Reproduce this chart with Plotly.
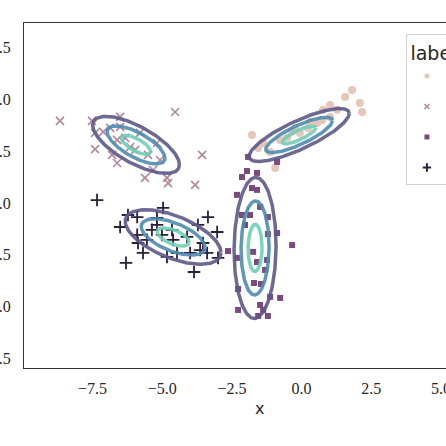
import numpy as np
import plotly.graph_objects as go

# ---- data ----
x0 = [1.81, 1.56, 2.09, 2.17, 1.02, 0.77, -1.78, -0.95, 0.23, -0.06, -0.52, -1.38, 1.02, 1.27, 0.55,
      -0.77, -1.13, -0.34, 0.30, -1.56, 0.73, -0.24]
y0 = [5.45, 5.11, 4.82, 4.39, 4.73, 4.49, 3.28, 1.69, 3.62, 3.38, 3.14, 2.89, 4.15, 4.49, 3.86,
      3.04, 2.46, 3.43, 3.91, 2.65, 4.00, 3.62]

x1 = [-8.67, -7.52, -6.51, -4.54, -7.41, -7.12, -6.62, -7.41, -6.80, -6.62, -3.57, -5.62, -4.83, -4.79,
      -3.82, -5.19, -5.80, -5.33, -6.15, -6.51, -5.97, -6.33, -5.51, -6.87, -5.08]
y1 = [3.96, 3.96, 4.15, 4.39, 3.38, 3.43, 3.04, 2.60, 2.32, 1.93, 2.32, 1.21, 1.21, 0.96,
      0.87, 2.89, 3.38, 1.59, 2.70, 3.67, 2.56, 3.14, 2.32, 3.62, 2.07]

x2 = [-1.92, -0.88, -1.96, -1.60, -2.14, -1.78, -1.60, -2.32, -1.49, -2.14, -1.85, -1.21, -2.03, -1.21,
      -0.88, -0.34, -2.64, -1.74, -2.32, -1.24, -1.60, -1.31, -1.71, -1.46, -2.28, -0.77, -1.13, -1.49,
      -2.28, -1.56, -1.21, -1.38]
y2 = [2.22, 1.98, 1.54, 1.45, 1.25, 0.72, 0.63, 0.39, -0.19, -0.58, -0.58, -0.68, -1.06, -1.50,
      -1.45, -2.03, -2.32, -2.36, -2.65, -2.75, -2.85, -3.23, -3.86, -3.91, -4.15, -4.58, -4.53, -4.92,
      -5.16, -5.45, -5.45, -5.16]

x3 = [-7.34, -6.23, -5.90, -4.97, -6.51, -5.19, -3.36, -3.72, -5.90, -5.87, -5.19, -4.65, -4.61, -4.11,
      -5.01, -3.03, -5.55, -3.54, -5.69, -4.83, -4.47, -4.00, -3.39, -3.00, -6.30, -3.86, -5.37, -3.64]
y3 = [0.14, -0.58, -0.68, -0.24, -1.16, -0.72, -0.68, -1.06, -1.54, -1.93, -1.06, -1.30, -1.78, -1.64,
      -1.54, -1.40, -1.78, -1.93, -2.41, -2.60, -2.41, -2.41, -2.41, -2.65, -2.89, -3.33, -1.30, -2.27]

labels = ["0", "1", "2", "3"]

# Gaussian component parameters (means and covariances)
means = [[-0.09, 3.28], [-5.94, 2.80], [-1.67, -2.17], [-4.61, -1.64]]
covs = [[[0.359, 0.207], [0.207, 0.181]],
        [[0.269, -0.165], [-0.165, 0.210]],
        [[0.063, 0.01], [0.01, 1.286]],
        [[0.328, -0.144], [-0.144, 0.192]]]
levels = [3, 2, 1]

xticks = [-7.5, -5.0, -2.5, 0.0, 2.5, 5.0]
yticks = [-7.5, -5.0, -2.5, 0.0, 2.5, 5.0, 7.5]

# ---- styles ----
point_colors = ["#e6c5ba", "#b3869b", "#7a4a7f", "#2b1f3b"]
level_colors = {3: "#5d5a88", 2: "#4f8cb0", 1: "#6fcfb6"}


def fmt(v):
    s = f"{v:.1f}"
    return s.replace("-", "\u2212")


fig = go.Figure()
xs = [x0, x1, x2, x3]
ys = [y0, y1, y2, y3]
markers = [
    dict(symbol="circle", size=8, color=point_colors[0], line=dict(width=0)),
    dict(symbol="x-thin", size=8, color=point_colors[1], line=dict(width=1.6, color=point_colors[1])),
    dict(symbol="square", size=6, color=point_colors[2], line=dict(width=0)),
    dict(symbol="cross-thin", size=9, color=point_colors[3], line=dict(width=1.8, color=point_colors[3])),
]
legend_markers = [
    dict(symbol="circle", size=5, color=point_colors[0], line=dict(width=0)),
    dict(symbol="x-thin", size=5, color=point_colors[1], line=dict(width=1.5, color=point_colors[1])),
    dict(symbol="square", size=5, color=point_colors[2], line=dict(width=0)),
    dict(symbol="cross-thin", size=6, color=point_colors[3], line=dict(width=2, color=point_colors[3])),
]
for i in range(4):
    fig.add_trace(go.Scatter(x=xs[i], y=ys[i], mode="markers", name=labels[i],
                             marker=markers[i], legendgroup=labels[i], showlegend=False))
    fig.add_trace(go.Scatter(x=[None], y=[None], mode="markers", name=labels[i],
                             marker=legend_markers[i], legendgroup=labels[i], showlegend=True))

t = np.linspace(0, 2 * np.pi, 200)
circle = np.vstack([np.cos(t), np.sin(t)])
for m, c in zip(means, covs):
    L = np.linalg.cholesky(np.array(c))
    for k in levels:
        pts = (L @ circle) * k + np.array(m)[:, None]
        fig.add_trace(go.Scatter(x=pts[0], y=pts[1], mode="lines", showlegend=False,
                                 hoverinfo="skip", opacity=0.9,
                                 line=dict(color=level_colors[k], width=3.5)))

tickfont = dict(family="Liberation Serif, DejaVu Serif, serif", size=16, color="#262626")
fig.update_xaxes(range=[-9.96, 5.18], tickvals=xticks, ticktext=[fmt(v) for v in xticks],
                 showgrid=False, zeroline=False, showline=True, linecolor="#333333", linewidth=1.3,
                 mirror=True, ticks="", tickfont=tickfont, ticklabelstandoff=6,
                 ticklabeloverflow="allow")
fig.update_yaxes(range=[-7.96, 8.68], tickvals=yticks, ticktext=[fmt(v) for v in yticks],
                 showgrid=False, zeroline=False, showline=True, linecolor="#333333", linewidth=1.3,
                 mirror=False, ticks="", tickfont=tickfont, ticklabelstandoff=9,
                 ticklabeloverflow="allow")

fig.add_annotation(text="x", xref="paper", yref="paper", x=0.559, y=-0.085, showarrow=False,
                   yanchor="top", font=dict(family="DejaVu Sans, sans-serif", size=16, color="#262626"))

fig.update_layout(
    width=446, height=446,
    margin=dict(l=24, r=0, t=23, b=78, autoexpand=False),
    plot_bgcolor="white", paper_bgcolor="white",
    legend=dict(x=0.905, y=0.968, xanchor="left", yanchor="top",
                bgcolor="white", bordercolor="#d0d0d0", borderwidth=1,
                title=dict(text="label", side="top center",
                           font=dict(family="DejaVu Sans, sans-serif", size=19, color="#262626")),
                font=dict(family="Liberation Serif, serif", size=15, color="#262626"),
                entrywidth=90, tracegroupgap=8, itemsizing="trace"),
)

fig.write_html("out.html")
